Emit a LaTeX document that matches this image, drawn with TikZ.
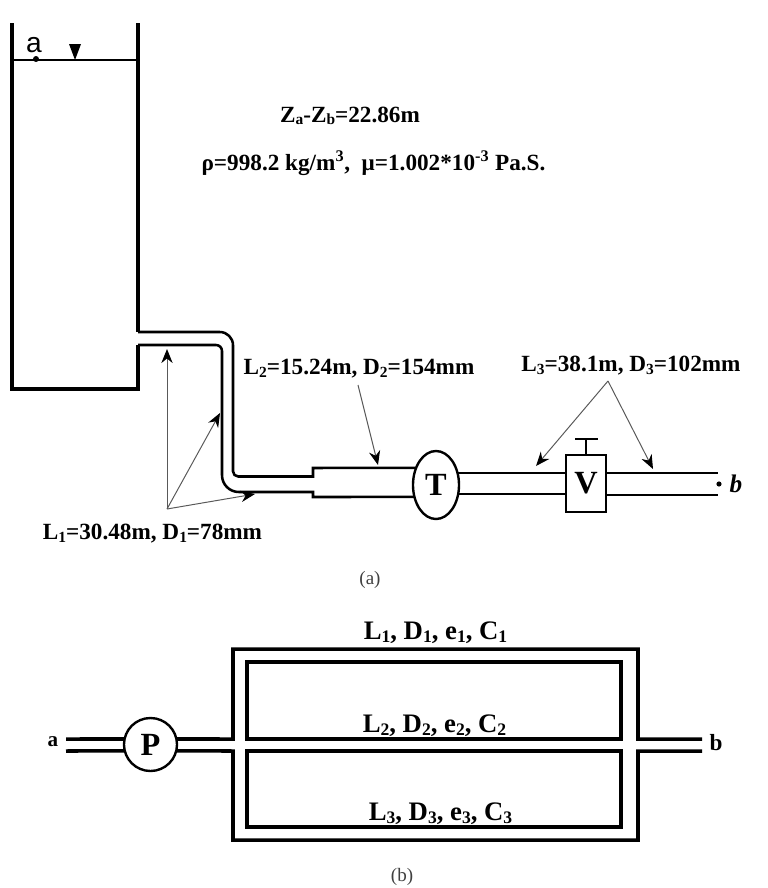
\documentclass[tikz,border=0pt]{standalone}
\usepackage{fontspec}
\setmainfont{Liberation Serif}
\newfontfamily\tanksans{Liberation Sans}
\usetikzlibrary{shapes.geometric,arrows.meta}

\newcommand{\idx}[1]{\raisebox{-0.2ex}{\fontsize{11}{12}\selectfont #1}}
\newcommand{\idxb}[1]{\raisebox{-0.2ex}{\fontsize{12.5}{13}\selectfont #1}}

\tikzset{
  wall/.style={line width=2.4pt},
  pipe/.style={line width=1.8pt},
  netpipe/.style={line width=2.5pt},
  pointer/.style={line width=0.7pt, black!65, -{Stealth[length=10pt,width=8pt,black]}},
  lbl/.style={font=\fontsize{16.5}{18}\selectfont\bfseries, inner sep=0pt},
  netlbl/.style={font=\fontsize{19}{21}\selectfont\bfseries, inner sep=0pt},
  figcap/.style={font=\fontsize{13.5}{15}\selectfont, black!75, inner sep=0pt},
  device/.style={draw, line width=1.7pt, inner sep=0pt, outer sep=0pt, font=\fontsize{23}{25}\selectfont\bfseries}
}

\begin{document}
\begin{tikzpicture}[x=0.025cm,y=-0.025cm]
\useasboundingbox (0,0) rectangle (768,888);

% tank
\coordinate (tankL) at (12,23);
\coordinate (tankR) at (138,23);
\coordinate (tankBL) at (12,389);
\coordinate (tankBR) at (138,389);
\coordinate (pipeTop) at (138,332);
\coordinate (pipeLow) at (138,345);
\draw[wall] (tankL) -- (tankBL) -- (tankBR) -- (pipeLow);
\draw[wall] (tankR) -- (pipeTop);

% water level
\coordinate (levelL) at (12,60);
\coordinate (levelR) at (138,60);
\draw[line width=1.2pt] (levelL) -- (levelR);
\node (pointA) at (36,59) [circle, fill, inner sep=1.5pt] {};
\node (nameA) at (34,45) [font=\fontsize{20}{22}\selectfont\tanksans, inner sep=0pt] {a};
\fill (69,44) -- (81,44) -- (75,60) -- cycle;

% devices on the line
\node (T) at (436,485) [ellipse, device, minimum width=1.15cm, minimum height=1.7cm] {T};
\node (V) at (586,483.5) [rectangle, device, minimum width=1cm, minimum height=1.425cm] {V};

% first pipe and step
\coordinate (bendA) at (233,332);
\coordinate (bendB) at (233,476.5);
\coordinate (stepA) at (313,476.5);
\coordinate (stepB) at (313,468);
\coordinate (bendC) at (222,345);
\coordinate (bendD) at (222,492);
\coordinate (stepC) at (313,492);
\coordinate (stepD) at (313,497);
\draw[pipe, rounded corners=0.33cm] (pipeTop) -- (bendA) [rounded corners=0.13cm] -- (bendB) [sharp corners] -- (stepA) -- (stepB) -- (T.139);
\draw[pipe, rounded corners=0.15cm] (pipeLow) -- (bendC) [rounded corners=0.42cm] -- (bendD) [sharp corners] -- (stepC) -- (stepD) -- (T.209);

% last pipe
\coordinate (endTop) at (718,473);
\coordinate (endLow) at (718,495);
\draw[pipe] (T.29) -- (T.29 -| V.west);
\draw[pipe] (T.338) -- (T.338 -| V.west);
\draw[pipe] (V.east |- endTop) -- (endTop);
\draw[pipe] (V.east |- endLow) -- (endLow);

% valve handle
\coordinate (stemTop) at (586,439);
\coordinate (handleL) at (575,439);
\coordinate (handleR) at (598,439);
\draw[pipe] (V.north) -- (stemTop);
\draw[pipe] (handleL) -- (handleR);

\node (pointB) at (719,484) [circle, fill, inner sep=1.3pt] {};
\node (nameB) at (736,484) [lbl, font=\fontsize{18}{20}\selectfont\bfseries\itshape] {b};

% texts
\node (level) at (350,116) [lbl] {Z\idx{a}-Z\idx{b}=22.86m};
\node (fluid) at (373.5,163) [lbl] {ρ=998.2 kg/m\textsuperscript{3},\ \ μ=1.002*10\textsuperscript{-3} Pa.S.};
\node (labA) at (152.5,534) [lbl] {L\idx{1}=30.48m, D\idx{1}=78mm};
\node (labB) at (359,369) [lbl] {L\idx{2}=15.24m, D\idx{2}=154mm};
\node (labC) at (631,366) [lbl] {L\idx{3}=38.1m, D\idx{3}=102mm};
\node (capA) at (370,580) [figcap] {(a)};

% pointers
\coordinate (fanA) at (167,509);
\coordinate (tipA) at (167,349);
\coordinate (tipB) at (220,413);
\coordinate (tipC) at (255,494);
\draw[pointer] (fanA) -- (tipA);
\draw[pointer] (fanA) -- (tipB);
\draw[pointer] (fanA) -- (tipC);
\coordinate (fromB) at (358,385);
\coordinate (tipD) at (378,465);
\draw[pointer] (fromB) -- (tipD);
\coordinate (fanC) at (608,381);
\coordinate (tipE) at (536,466);
\coordinate (tipF) at (653,469);
\draw[pointer] (fanC) -- (tipE);
\draw[pointer] (fanC) -- (tipF);

% pump network
\node (P) at (150.5,744.5) [circle, device, minimum size=1.325cm] {P};
\coordinate (inTop) at (66,739);
\coordinate (inLow) at (66,751);
\draw[netpipe] (inTop) -- (P.168);
\draw[netpipe] (inLow) -- (P.194);

% outer branch
\coordinate (outTL) at (233,649);
\coordinate (outTR) at (638,649);
\coordinate (outBL) at (233,840);
\coordinate (outBR) at (638,840);
\coordinate (joinLT) at (233,739);
\coordinate (joinLB) at (233,751);
\coordinate (joinRT) at (638,739);
\coordinate (joinRB) at (638,751);
\coordinate (outTop) at (702,739);
\coordinate (outLow) at (702,751);
\draw[netpipe] (P.12) -- (joinLT) -- (outTL) -- (outTR) -- (joinRT) -- (outTop);
\draw[netpipe] (P.346) -- (joinLB) -- (outBL) -- (outBR) -- (joinRB) -- (outLow);

% inner branches
\coordinate (upTL) at (247,662);
\coordinate (upBR) at (621,739);
\coordinate (lowTL) at (247,751);
\coordinate (lowBR) at (621,827);
\draw[netpipe] (upTL) rectangle (upBR);
\draw[netpipe] (lowTL) rectangle (lowBR);

\node (netA) at (53,742) [lbl, font=\fontsize{15}{16}\selectfont\bfseries] {a};
\node (netB) at (716,743) [lbl, font=\fontsize{16.5}{18}\selectfont\bfseries] {b};
\node (netOne) at (435.5,633) [netlbl] {L\idxb{1}, D\idxb{1}, e\idxb{1}, C\idxb{1}};
\node (netTwo) at (434.5,726) [netlbl] {L\idxb{2}, D\idxb{2}, e\idxb{2}, C\idxb{2}};
\node (netThree) at (440.5,814) [netlbl] {L\idxb{3}, D\idxb{3}, e\idxb{3}, C\idxb{3}};
\node (capB) at (402,877) [figcap] {(b)};
\end{tikzpicture}
\end{document}
